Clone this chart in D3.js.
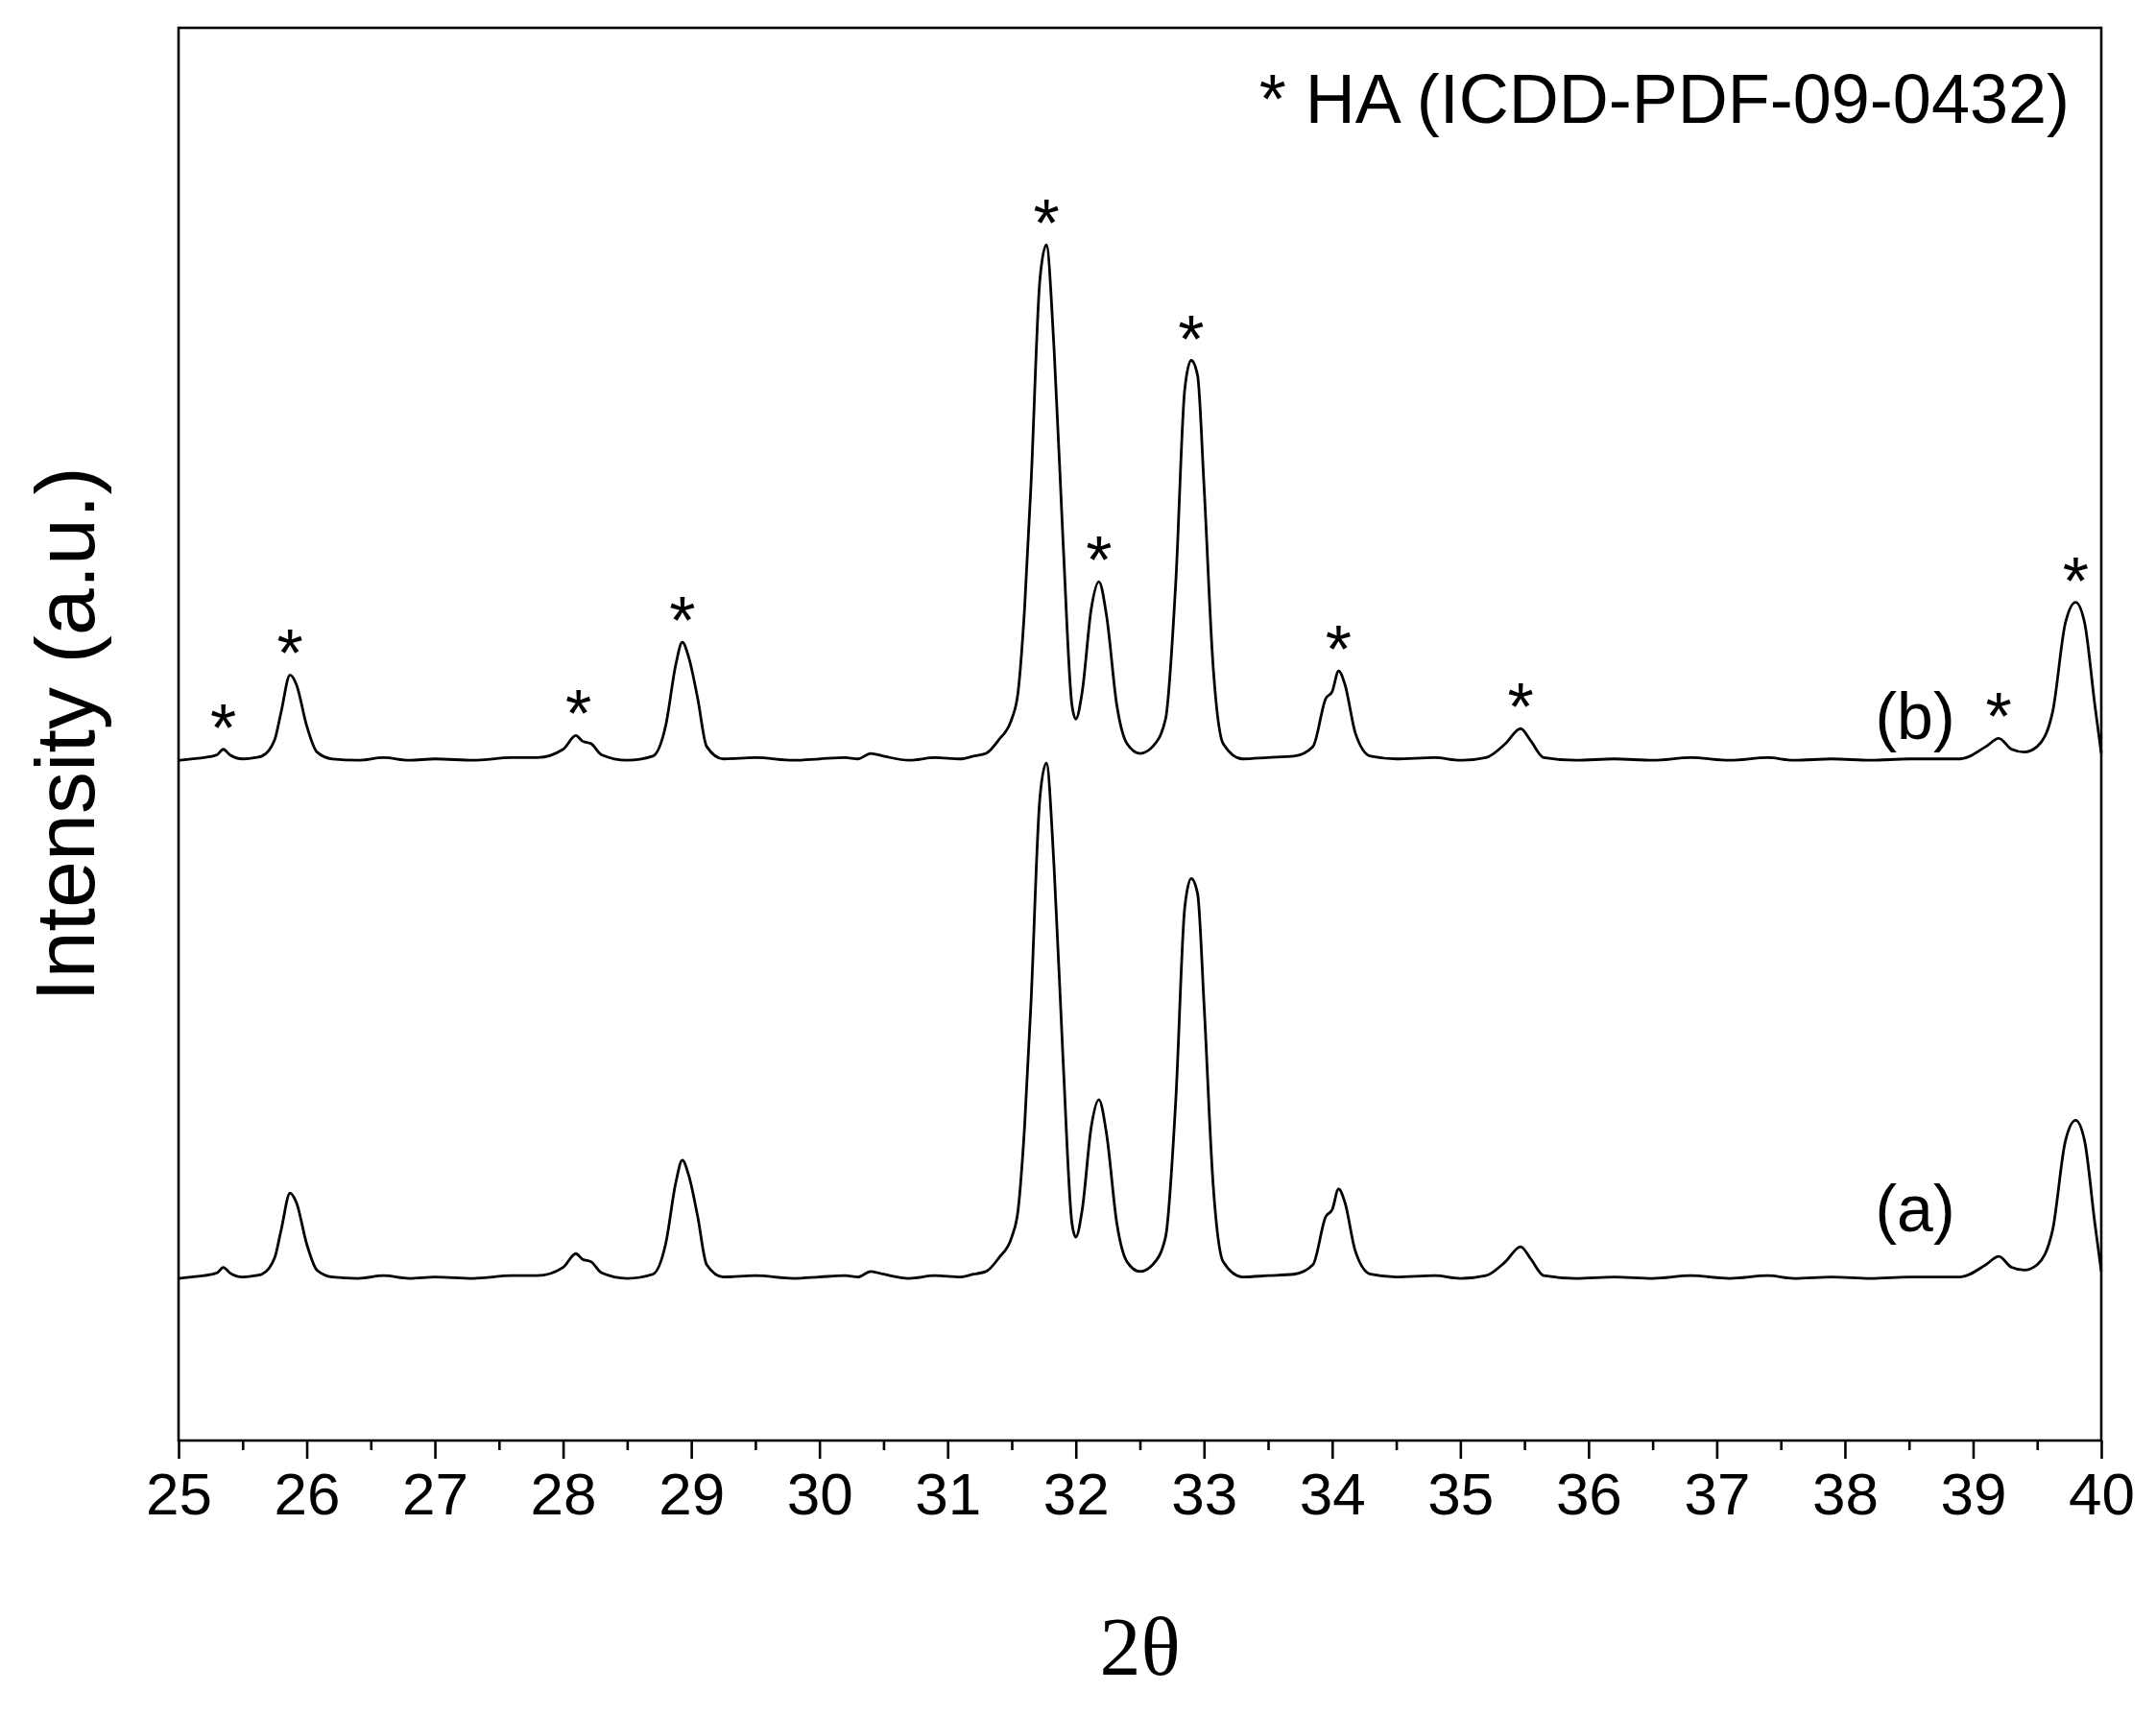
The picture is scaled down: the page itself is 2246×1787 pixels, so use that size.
<!DOCTYPE html>
<html><head><meta charset="utf-8">
<script src="https://cdn.jsdelivr.net/npm/d3@7"></script>
<style>body{margin:0;background:#fff}</style></head>
<body><svg id="c" width="2246" height="1787"></svg>
<script>
// 2θ positions and relative intensity (a.u.) above baseline
const twoTheta = [25.0,25.1,25.2,25.3,25.35,25.4,25.5,25.6,25.65,25.75,25.8,25.87,25.92,26.0,26.08,26.2,26.4,26.6,26.8,27.0,27.3,27.6,27.8,28.0,28.1,28.15,28.22,28.3,28.5,28.7,28.8,28.88,28.93,28.98,29.05,29.12,29.25,29.5,29.8,30.0,30.2,30.3,30.4,30.5,30.7,30.9,31.1,31.2,31.3,31.4,31.5,31.55,31.6,31.65,31.72,31.77,31.83,31.9,31.97,32.0,32.05,32.12,32.18,32.24,32.32,32.4,32.5,32.6,32.7,32.78,32.85,32.9,32.95,33.0,33.07,33.15,33.3,33.5,33.7,33.85,33.95,34.0,34.05,34.1,34.18,34.3,34.5,34.8,35.0,35.2,35.35,35.47,35.55,35.65,35.9,36.2,36.5,36.8,37.1,37.4,37.6,37.9,38.2,38.5,38.9,39.1,39.2,39.3,39.4,39.5,39.62,39.72,39.8,39.87,39.95,40.0];
const intensity = [0,1,2,4,8,4,1,2,3,15,35,62,55,25,6,1,0,2,0,1,0,2,2,8,18,14,12,4,0,3,25,70,86,75,45,10,1,2,0,1,2,1,5,3,0,2,1,3,5,15,30,50,110,200,350,375,300,160,40,30,50,110,130,105,40,12,5,10,30,130,270,291,280,200,70,12,1,2,3,10,45,50,65,55,20,3,1,2,0,2,12,23,14,2,0,1,0,2,0,2,0,1,0,1,1,10,16,8,6,10,35,100,115,100,40,5];
const baselineB = 495, baselineA = 118;
const starPeaks = [25.35,25.87,28.12,28.93,31.77,32.18,32.9,34.05,35.47,39.2,39.8];
const xTicks = d3.range(25,41,1);

const svg = d3.select("#c");
const L=186,R=2189,T=29,B=1501;
const x = d3.scaleLinear().domain([25,40]).range([L,R]);
const y = d3.scaleLinear().domain([0,1028]).range([B,T]);
const pts = twoTheta.map((t,i)=>[t,intensity[i]]);
const line = off => d3.line().x(d=>x(d[0])).y(d=>y(d[1]+off)).curve(d3.curveMonotoneX);

svg.append("path").attr("d",line(baselineB)(pts)).attr("fill","none").attr("stroke","#000").attr("stroke-width",2.8);
svg.append("path").attr("d",line(baselineA)(pts)).attr("fill","none").attr("stroke","#000").attr("stroke-width",2.8);

svg.append("rect").attr("x",L).attr("y",T).attr("width",R-L).attr("height",B-T).attr("fill","none").attr("stroke","#000").attr("stroke-width",2.6);

const ax = svg.append("g").attr("transform",`translate(0,${B})`)
  .call(d3.axisBottom(x).tickValues(xTicks).tickFormat(d3.format("d")).tickSize(19).tickPadding(14));
ax.select(".domain").remove();
ax.selectAll("line").attr("stroke-width",2.6);
ax.selectAll("text").attr("font-family","Liberation Sans, Arial").attr("font-size",62);
svg.append("g").attr("transform",`translate(0,${B})`)
  .call(d3.axisBottom(x).tickValues(d3.range(25.5,40,1)).tickFormat("").tickSize(10))
  .call(g=>{g.select(".domain").remove();g.selectAll("line").attr("stroke-width",2.6);});

const lookup = t => { let i=d3.bisectLeft(twoTheta,t); if(i>0&&Math.abs(twoTheta[i-1]-t)<Math.abs(twoTheta[i]-t)) i--; return intensity[i]; };
svg.selectAll(".star").data(starPeaks).join("text")
  .attr("x",d=>x(d)).attr("y",d=>y(lookup(d)+baselineB)+2)
  .attr("text-anchor","middle").attr("font-family","Liberation Sans, Arial").attr("font-size",70).text("*");

const txt=(s,xx,yy,size,anchor="middle",fam="Liberation Sans, Arial")=>svg.append("text").attr("x",xx).attr("y",yy)
  .attr("text-anchor",anchor).attr("font-family",fam).attr("font-size",size).text(s);
txt("* HA (ICDD-PDF-09-0432)",2156,128,72,"end");
txt("(b)",1995,770,68);
txt("(a)",1995,1283,68);
txt("2θ",x(32.5),1745,86,"middle","Liberation Serif, Times New Roman");
svg.append("text").attr("transform",`translate(98,${(T+B)/2}) rotate(-90)`).attr("text-anchor","middle")
  .attr("font-family","Liberation Sans, Arial").attr("font-size",88).text("Intensity (a.u.)");
</script></body></html>
